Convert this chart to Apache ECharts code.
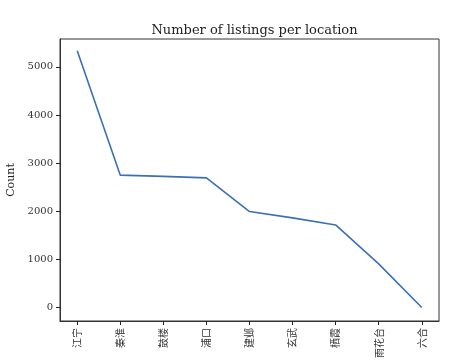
<!DOCTYPE html>
<html><head><meta charset="utf-8">
<script src="https://cdn.jsdelivr.net/npm/echarts@6/dist/echarts.min.js"></script>
<style>html,body{margin:0;padding:0;background:#fff}#c{width:474px;height:360px}</style>
</head><body><div id="c"></div>
<script>
const categories = ['江宁','秦淮','鼓楼','浦口','建邺','玄武','栖霞','雨花台','六合'];
const counts = [5333, 2751, 2726, 2695, 1995, 1864, 1718, 910, 5];
const yTicks = [0, 1000, 2000, 3000, 4000, 5000];
const titleText = 'Number of listings per location';
const yName = 'Count';

const xIdx = categories.map((_, i) => i);
const FONT = '"DejaVu Serif", "Noto Sans CJK SC", serif';
const chart = echarts.init(document.getElementById('c'), null, {renderer: 'canvas'});
chart.setOption({
  animation: false,
  backgroundColor: '#fff',
  title: {
    text: titleText, left: 249.5, textAlign: 'center', top: 19,
    textStyle: {fontFamily: FONT, fontSize: 13, fontWeight: 'normal', color: '#222'}
  },
  grid: {left: 60, right: 35, top: 39, bottom: 39, containLabel: false, outerBoundsMode: 'none',
    show: true, borderColor: '#333', borderWidth: 1, backgroundColor: 'transparent'},
  xAxis: {
    type: 'value', min: -0.4, max: 8.4,
    splitLine: {show: false},
    axisLine: {show: true, onZero: false, lineStyle: {color: '#333', width: 1}},
    axisTick: {show: true, inside: false, length: 4, customValues: xIdx, lineStyle: {color: '#222', width: 1}},
    axisLabel: {
      customValues: xIdx, rotate: 90, margin: 7,
      fontFamily: '"Noto Sans CJK SC", sans-serif', fontSize: 10, color: '#333',
      formatter: v => categories[Math.round(v)] || ''
    }
  },
  yAxis: {
    type: 'value', min: -276, max: 5577,
    name: yName, nameLocation: 'middle', nameGap: 32,
    nameTextStyle: {fontFamily: FONT, fontSize: 11, color: '#222'},
    splitLine: {show: false},
    axisLine: {show: true, onZero: false, lineStyle: {color: '#333', width: 1}},
    axisTick: {show: true, inside: false, length: 4, customValues: yTicks, lineStyle: {color: '#222', width: 1}},
    axisLabel: {customValues: yTicks, margin: 7, fontFamily: FONT, fontSize: 10, color: '#333',
      formatter: v => String(v)}
  },
  series: [{
    type: 'line',
    data: counts.map((v, i) => [i, v]),
    symbol: 'none',
    lineStyle: {color: '#3b70b3', width: 1.6},
    clip: false
  }]
});
</script></body></html>
